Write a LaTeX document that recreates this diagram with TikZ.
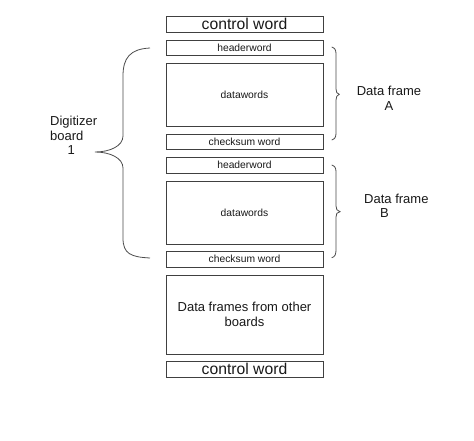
\documentclass[tikz,border=0pt]{standalone}
\usepackage{fontspec}
\setmainfont{Liberation Sans}
\begin{document}
\begin{tikzpicture}[x=1pt,y=-1pt,
  box/.style={draw=black!75, line width=0.9pt, minimum width=157pt, inner sep=0pt,
    text=black!90, font=\fontsize{10.3}{12}\selectfont},
  ctrl/.style={box, font=\fontsize{15.7}{17}\selectfont},
  big/.style={box, font=\fontsize{13}{15}\selectfont, align=center},
  lbl/.style={text=black!90, font=\fontsize{13}{14.5}\selectfont, inner sep=0pt},
  brace/.style={draw=black!70, line width=0.8pt}]
\useasboundingbox (0,0) rectangle (474,441);
\fill[white] (0,0) rectangle (474,441);

\node[ctrl, minimum height=16pt] (c1) at (244.5,24) {control word};
\node[box, minimum height=15pt] (ha) at (244.5,47.5) {headerword};
\node[box, minimum height=63pt] (da) at (244.5,94.5) {datawords};
\node[box, minimum height=15pt] (ka) at (244.5,141.5) {checksum word};
\node[box, minimum height=16pt] (hb) at (244.5,165) {headerword};
\node[box, minimum height=63pt] (db) at (244.5,212.5) {datawords};
\node[box, minimum height=16pt] (kb) at (244.5,259) {checksum word};
\node[big, minimum height=79pt] (ot) at (244.5,314.5) {Data frames from other\\boards};
\node[ctrl, minimum height=16pt] (c2) at (244.5,369) {control word};

% left brace: Digitizer board 1
\coordinate (lt) at (150,48);
\coordinate (lm) at (95,152);
\coordinate (lb) at (150,258);
\draw[brace] (lt) .. controls (130,49) and (123,58) .. (123,76) -- (123,136)
  .. controls (123,146) and (110,152) .. (lm)
  .. controls (110,152) and (123,158) .. (123,168) -- (123,238)
  .. controls (123,254) and (131,257) .. (lb);

% right brace A
\coordinate (at) at (331.7,47);
\coordinate (am) at (339.3,94.3);
\coordinate (ab) at (331.7,140);
\draw[brace] (at) .. controls (335,48) and (336,50) .. (336,54) -- (336,89)
  .. controls (336,92) and (337,94) .. (am)
  .. controls (337,95) and (336,97) .. (336,100) -- (336,133)
  .. controls (336,137) and (335,139) .. (ab);

% right brace B
\coordinate (bt) at (331.7,165);
\coordinate (bm) at (340,211.7);
\coordinate (bb) at (331.7,257.7);
\draw[brace] (bt) .. controls (335,166) and (336,168) .. (336,172) -- (336,206)
  .. controls (336,209) and (337,211) .. (bm)
  .. controls (337,212) and (336,214) .. (336,217) -- (336,250)
  .. controls (336,254) and (335,257) .. (bb);

\node[lbl, align=center] (la) at (389,98.5) {Data frame\\A};
\node[lbl, align=left, anchor=west] (lbB) at (364,206) {Data frame\\\hspace{16pt}B};
\node[lbl, align=left, anchor=west] (ld) at (50,135.5) {Digitizer\\board\\\hspace{17.5pt}1};
\end{tikzpicture}
\end{document}
